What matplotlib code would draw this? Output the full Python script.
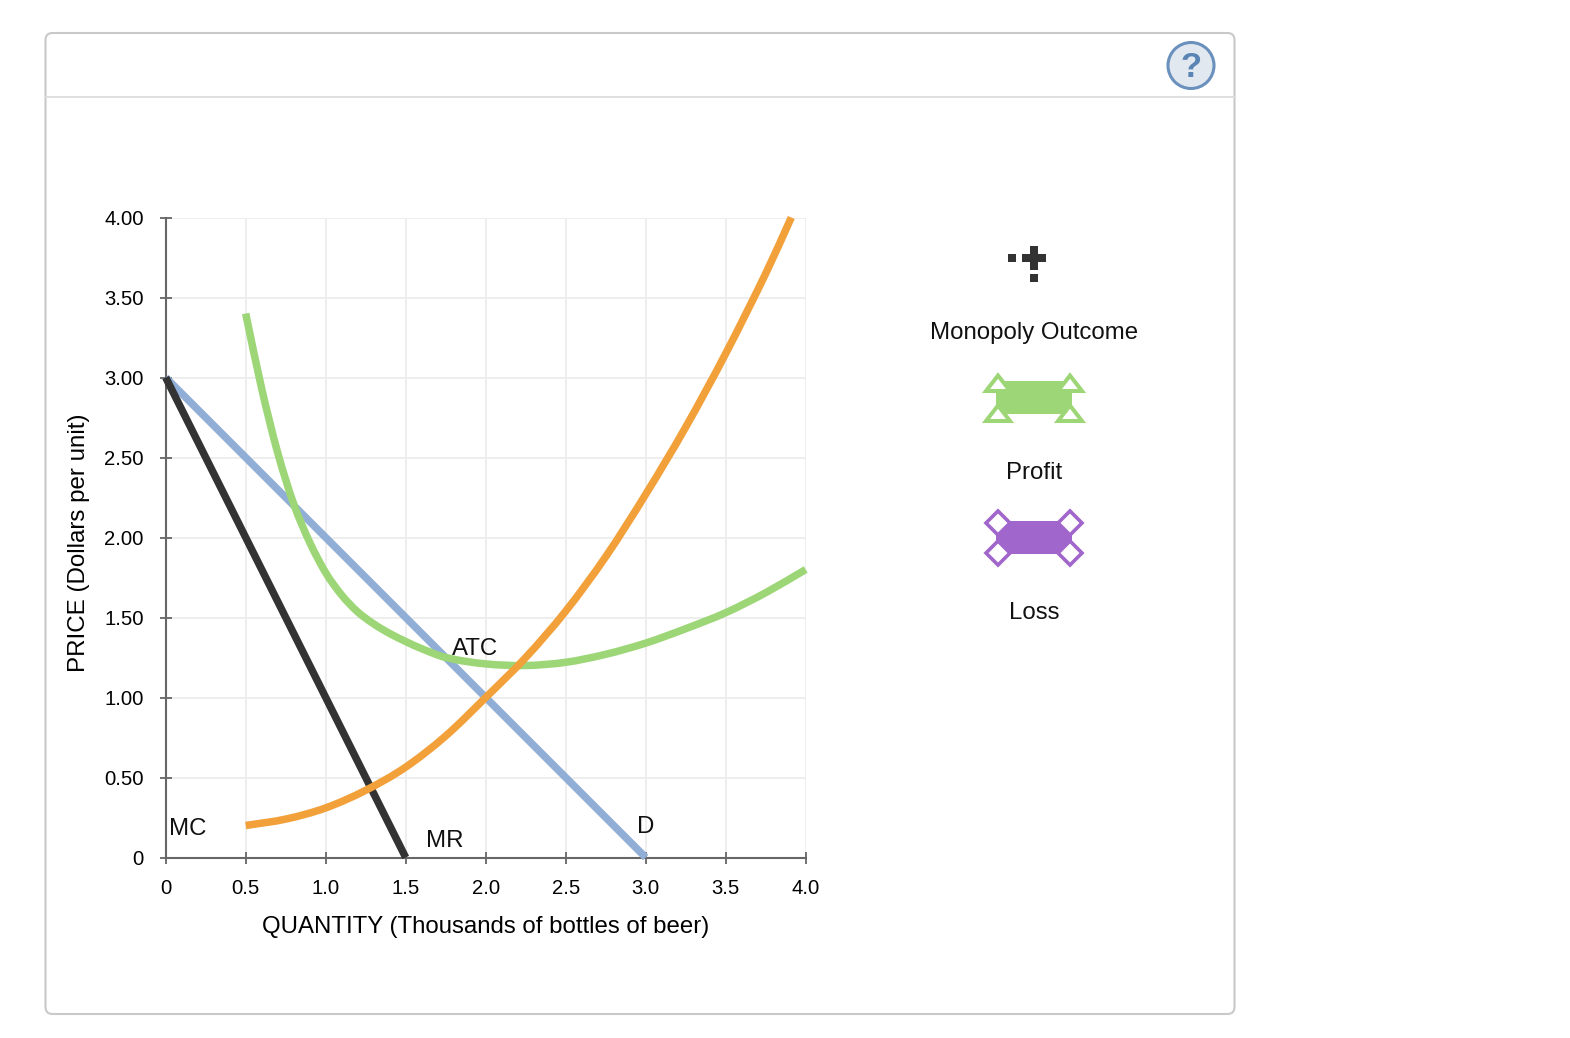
import matplotlib
matplotlib.use('Agg')
import matplotlib.pyplot as plt
from matplotlib.patches import FancyBboxPatch, Rectangle, Circle, PathPatch, Polygon
from matplotlib.path import Path

plt.rcParams['font.family'] = ['Liberation Sans', 'DejaVu Sans']

# Data
x_ticks = [0, 0.5, 1.0, 1.5, 2.0, 2.5, 3.0, 3.5, 4.0]
x_tick_labels = ['0', '0.5', '1.0', '1.5', '2.0', '2.5', '3.0', '3.5', '4.0']
y_ticks = [0, 0.5, 1.0, 1.5, 2.0, 2.5, 3.0, 3.5, 4.0]
y_tick_labels = ['0', '0.50', '1.00', '1.50', '2.00', '2.50', '3.00', '3.50', '4.00']

d_x = [0, 3.0]
d_y = [3.0, 0]
mr_x = [0, 1.5]
mr_y = [3.0, 0]
mc_x = [0.5, 0.75, 1.0, 1.25, 1.5, 1.75, 2.0, 2.25, 2.5, 2.75, 3.0, 3.25, 3.5, 3.75, 3.91]
mc_y = [0.20, 0.24, 0.31, 0.42, 0.565, 0.76, 1.00, 1.25, 1.54, 1.88, 2.27, 2.69, 3.15, 3.65, 4.00]
atc_x = [0.5, 0.6, 0.7, 0.8, 0.9, 1.0, 1.1, 1.2, 1.3, 1.4, 1.5, 1.6, 1.75, 2.0, 2.25, 2.5, 2.75, 3.0, 3.25, 3.5, 3.75, 4.0]
atc_y = [3.40, 2.93, 2.53, 2.21, 1.97, 1.78, 1.64, 1.535, 1.46, 1.40, 1.35, 1.305, 1.25, 1.21, 1.20, 1.22, 1.27, 1.34, 1.43, 1.53, 1.655, 1.80]

curve_labels = ['MC', 'MR', 'ATC', 'D']
curve_label_pos = [(0.02, 0.18), (1.625, 0.105), (1.79, 1.305), (2.946, 0.19)]
legend_labels = ['Monopoly Outcome', 'Profit', 'Loss']

W, H = 1570, 1038
fig = plt.figure(figsize=(W / 100, H / 100), dpi=100, facecolor='white')


def smooth_path(xs, ys):
    """Smooth cubic path running through the read points."""
    n = len(xs)
    m = []
    for i in range(n):
        a, b = max(i - 1, 0), min(i + 1, n - 1)
        m.append((ys[b] - ys[a]) / (xs[b] - xs[a]))
    verts = [(xs[0], ys[0])]
    codes = [Path.MOVETO]
    for i in range(n - 1):
        h = xs[i + 1] - xs[i]
        verts += [(xs[i] + h / 3, ys[i] + m[i] * h / 3),
                  (xs[i + 1] - h / 3, ys[i + 1] - m[i + 1] * h / 3),
                  (xs[i + 1], ys[i + 1])]
        codes += [Path.CURVE4] * 3
    return Path(verts, codes)


# Overlay in pixel coordinates for the panel frame
bg = fig.add_axes([0, 0, 1, 1], zorder=0)
bg.set_xlim(0, W)
bg.set_ylim(H, 0)
bg.axis('off')
bg.add_patch(FancyBboxPatch((45.5, 33), 1189, 981, boxstyle='round,pad=0,rounding_size=7',
                            fc='white', ec='#c9c9c9', lw=1.5))
bg.plot([45.5, 1234.5], [97, 97], color='#dcdcdc', lw=1.3)
bg.add_patch(Circle((1191, 65.5), 23, fc='#e1e8f0', ec='#6a90bd', lw=2.2))
bg.text(1191, 67.5, '?', ha='center', va='center', fontsize=25, fontweight='bold', color='#5a84b4')

# Plot
AX_L, AX_B = 165.7, 857.5
ax = fig.add_axes([AX_L / W, 1 - AX_B / H, 640 / W, 640 / H], zorder=1)
ax.patch.set_alpha(0)
ax.set_xlim(0, 4)
ax.set_ylim(0, 4)
ax.grid(True, color='#eeeeee', lw=1.4)
ax.set_axisbelow(True)
ax.set_xticks(x_ticks, x_tick_labels)
ax.set_yticks(y_ticks, y_tick_labels)
ax.tick_params(axis='x', direction='inout', length=9, width=1.3, color='#666666', labelsize=14.6, pad=11.3)
ax.tick_params(axis='y', direction='inout', length=9, width=1.3, color='#666666', labelsize=14.6, pad=11.3)
for side in ('top', 'right'):
    ax.spines[side].set_visible(False)
for side in ('left', 'bottom'):
    ax.spines[side].set_color('#666666')
    ax.spines[side].set_linewidth(1.5)
ax.set_xlabel('QUANTITY (Thousands of bottles of beer)', fontsize=17.3)
ax.set_ylabel('PRICE (Dollars per unit)', fontsize=17.4)
ax.xaxis.set_label_coords(0.5, (AX_B - 916) / 640)
ax.yaxis.set_label_coords((90 - AX_L) / 640, (AX_B - 543) / 640)

LW = 5.4
ax.plot(d_x, d_y, color='#90aed6', lw=LW, solid_capstyle='butt', clip_on=False, zorder=3)
ax.plot(mr_x, mr_y, color='#333333', lw=LW, solid_capstyle='butt', clip_on=False, zorder=4)
ax.add_patch(PathPatch(smooth_path(atc_x, atc_y), fc='none', ec='#9dd676', lw=LW, capstyle='butt',
                       clip_on=False, zorder=5))
ax.add_patch(PathPatch(smooth_path(mc_x, mc_y), fc='none', ec='#f2a03a', lw=LW, capstyle='butt',
                       clip_on=False, zorder=6))
for lab, (lx, ly) in zip(curve_labels, curve_label_pos):
    ax.text(lx, ly, lab, fontsize=17.3, ha='left', va='center', color='#111111', zorder=7)

# Drawing palette
fg = fig.add_axes([0, 0, 1, 1], zorder=2)
fg.set_xlim(0, W)
fg.set_ylim(H, 0)
fg.axis('off')
DK = '#333333'
for (x0, y0, w, h) in [(1008, 254, 8, 8), (1030, 274, 8, 8), (1022, 254, 24, 8), (1030, 246, 8, 24)]:
    fg.add_patch(Rectangle((x0, y0), w, h, fc=DK, ec='none'))

GR = '#9dd676'
fg.add_patch(Rectangle((996, 381), 76, 33, fc=GR, ec='none'))
for cx, base in [(998, 391), (1070, 391), (998, 421), (1070, 421)]:
    fg.add_patch(Polygon([(cx - 12, base), (cx + 12, base), (cx, base - 15.5)], closed=True,
                         fc='white', ec=GR, lw=2.9, joinstyle='miter'))

PU = '#a066cc'
fg.add_patch(Rectangle((996, 521), 76, 33, fc=PU, ec='none'))
for mx, my in [(998, 522.5), (1070, 522.5), (998, 552.5), (1070, 552.5)]:
    fg.plot([mx], [my], marker='D', ms=12.5, mfc='white', mec=PU, mew=2.6, ls='none')

for lab, ly in zip(legend_labels, [333, 473, 613]):
    fg.text(1034, ly, lab, fontsize=17.3, ha='center', va='center', color='#111111')

fig.savefig('out.png', dpi=100)
